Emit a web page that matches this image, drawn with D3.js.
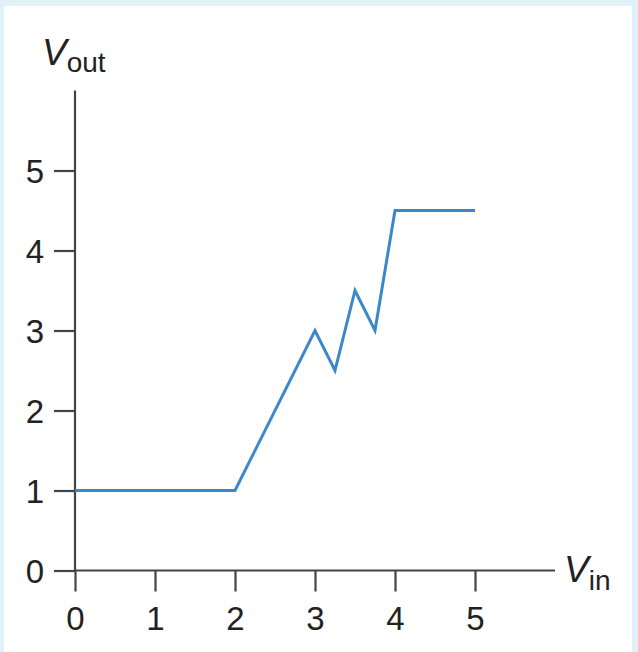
<!DOCTYPE html>
<html><head><meta charset="utf-8">
<script src="https://cdn.jsdelivr.net/npm/d3@7"></script>
<style>
html,body{margin:0;padding:0;background:#fff;}
svg{display:block;}
</style></head>
<body>
<script>
const vin  = [0, 2, 3, 3.25, 3.5, 3.75, 4, 5];
const vout = [1, 1, 3, 2.5, 3.5, 3, 4.5, 4.5];
const xTicks = [0, 1, 2, 3, 4, 5];
const yTicks = [0, 1, 2, 3, 4, 5];

const W = 638, H = 652;
const svg = d3.select("body").append("svg").attr("width", W).attr("height", H);

// frame background
svg.append("rect").attr("x",0).attr("y",0).attr("width",W).attr("height",H).attr("fill","#e0f1f8");
svg.append("rect").attr("x",4).attr("y",6).attr("width",628).attr("height",H-6).attr("fill","#fff");

const x = d3.scaleLinear().domain([0, 6]).range([75, 555]);
const y = d3.scaleLinear().domain([0, 6.0]).range([570.5, 90.5]);

const axisColor = "#444";
const font = "'Liberation Sans', Arial, Helvetica, sans-serif";

// x axis
const gx = svg.append("g").attr("transform", `translate(0,${y(0)})`)
  .call(d3.axisBottom(x).tickValues(xTicks).tickSize(21).tickPadding(15).tickFormat(d3.format("d")));
// y axis
const gy = svg.append("g").attr("transform", `translate(${x(0)},0)`)
  .call(d3.axisLeft(y).tickValues(yTicks).tickSize(21).tickPadding(10).tickFormat(d3.format("d")));

[gx, gy].forEach(g => {
  g.attr("font-size", 33).attr("font-family", font);
  g.select(".domain").attr("stroke", axisColor).attr("stroke-width", 2.2);
  g.selectAll(".tick line").attr("stroke", axisColor).attr("stroke-width", 2.2);
  g.selectAll(".tick text").attr("fill", "#222").attr("font-family", font).attr("font-size", 33);
});
// Remove the outer tick stubs at the domain ends
gx.select(".domain").attr("d", `M${x(0)},0H${x(6)}`);
gy.select(".domain").attr("d", `M0,${y(0)}V${y(6)}`);
gy.selectAll(".tick text").attr("dy", "0.36em");
gx.selectAll(".tick text").attr("dy", "0.72em");

// data line
const pts = vin.map((v, i) => [v, vout[i]]);
svg.append("path").datum(pts)
  .attr("fill", "none").attr("stroke", "#3a87c9").attr("stroke-width", 3)
  .attr("stroke-linejoin", "miter")
  .attr("d", d3.line().x(d => x(d[0])).y(d => y(d[1])));

// axis labels
const vo = svg.append("text").attr("x", 42).attr("y", 65).attr("font-family", font).attr("fill", "#222");
vo.append("tspan").attr("font-style", "italic").attr("font-size", 37).text("V");
vo.append("tspan").attr("font-size", 28).attr("dy", 7).text("out");

const vi = svg.append("text").attr("x", 564).attr("y", 582).attr("font-family", font).attr("fill", "#222");
vi.append("tspan").attr("font-style", "italic").attr("font-size", 37).text("V");
vi.append("tspan").attr("font-size", 28).attr("dy", 8).text("in");
</script>
</body></html>
